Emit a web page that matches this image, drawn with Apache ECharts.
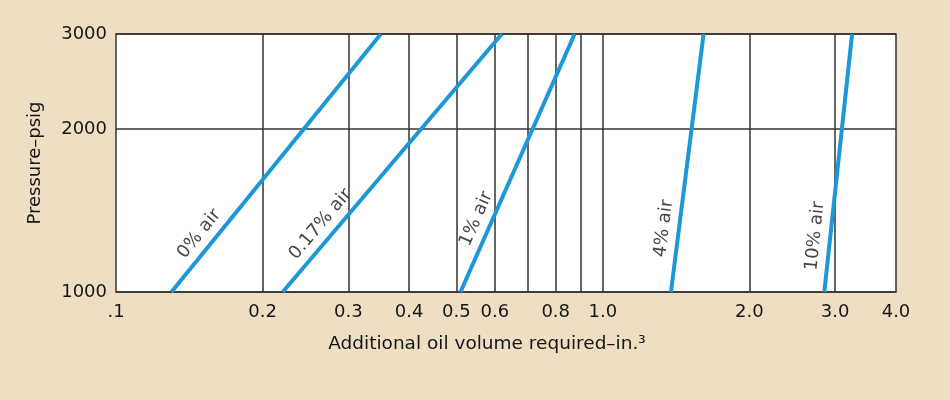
<!DOCTYPE html>
<html><head><meta charset="utf-8">
<script src="https://cdn.jsdelivr.net/npm/echarts@6/dist/echarts.min.js"></script>
<style>html,body{margin:0;padding:0;background:#eedfc4;} #c{width:950px;height:400px;}</style>
</head><body><div id="c"></div>
<script>
const seriesNames = ['0% air', '0.17% air', '1% air', '4% air', '10% air'];
const pressureEnds = [1000, 3000];
const volumeAtLow = [0.13, 0.22, 0.51, 1.38, 2.85];
const volumeAtHigh = [0.35, 0.62, 0.875, 1.61, 3.25];
const labelPressure = [1230, 1280, 1330, 1300, 1260];
const xTickLabels = [0.1, 0.2, 0.3, 0.4, 0.5, 0.6, 0.8, 1.0, 2.0, 3.0, 4.0];
const xGridValues = [0.2, 0.3, 0.4, 0.5, 0.6, 0.7, 0.8, 0.9, 1.0, 2.0, 3.0];
const yTickValues = [1000, 2000, 3000];

const FONT = 'DejaVu Sans';
const TXT = '#151515';
const BLUE = '#1b98d5';

function logInterp(p, i) {
  const t = (Math.log10(p) - Math.log10(pressureEnds[0])) / (Math.log10(pressureEnds[1]) - Math.log10(pressureEnds[0]));
  return Math.pow(10, Math.log10(volumeAtLow[i]) + t * (Math.log10(volumeAtHigh[i]) - Math.log10(volumeAtLow[i])));
}

const chart = echarts.init(document.getElementById('c'), null, {renderer: 'canvas'});

const lineSeries = seriesNames.map((n, i) => ({
  name: n, type: 'line', symbol: 'none', silent: true,
  lineStyle: {color: BLUE, width: 4},
  data: [[volumeAtLow[i], pressureEnds[0]], [volumeAtHigh[i], pressureEnds[1]]]
}));

function labelSeries(rot) {
  return seriesNames.map((n, i) => ({
    name: n + ' label', type: 'scatter', symbolSize: 0, silent: true,
    data: [[logInterp(labelPressure[i], i), labelPressure[i]]],
    label: {
      show: true, position: 'inside', formatter: n, rotate: rot ? rot[i] : 0,
      offset: [0, -15], color: TXT, fontFamily: FONT, fontSize: 18
    }
  }));
}

const option = {
  backgroundColor: '#eedfc4',
  animation: false,
  grid: {left: 116, right: 54, top: 34, bottom: 108, show: true,
    backgroundColor: '#ffffff', borderColor: '#333333', borderWidth: 1.5},
  xAxis: {
    type: 'log', min: 0.1, max: 4, logBase: 10,
    name: 'Additional oil volume required\u2013in.\u00b3', nameLocation: 'middle', nameGap: 43,
    nameTextStyle: {color: TXT, fontFamily: FONT, fontSize: 18.5, padding: [0, 38, 0, 0]},
    axisLine: {show: false},
    axisTick: {show: false, customValues: xGridValues},
    axisLabel: {customValues: xTickLabels, color: TXT, fontFamily: FONT, fontSize: 18, margin: 11,
      formatter: v => (Math.abs(v - 0.1) < 1e-9 ? '.1' : Number(v).toFixed(1))},
    splitLine: {show: true, lineStyle: {color: '#333333', width: 1.5}},
    minorSplitLine: {show: false}
  },
  yAxis: {
    type: 'log', min: 1000, max: 3000, logBase: 10,
    name: 'Pressure\u2013psig', nameLocation: 'middle', nameGap: 72,
    nameTextStyle: {color: TXT, fontFamily: FONT, fontSize: 18, padding: [0, 0, 0, 0]},
    axisLine: {show: false},
    axisTick: {show: false, customValues: yTickValues},
    axisLabel: {customValues: yTickValues, color: TXT, fontFamily: FONT, fontSize: 18, margin: 9,
      formatter: v => String(Math.round(v))},
    splitLine: {show: true, lineStyle: {color: '#333333', width: 1.5}}
  },
  series: lineSeries.concat(labelSeries(null))
};
chart.setOption(option);

const rots = seriesNames.map((n, i) => {
  const a = chart.convertToPixel({gridIndex: 0}, [volumeAtLow[i], pressureEnds[0]]);
  const b = chart.convertToPixel({gridIndex: 0}, [volumeAtHigh[i], pressureEnds[1]]);
  return Math.atan2(a[1] - b[1], b[0] - a[0]) * 180 / Math.PI;
});
option.series = lineSeries.concat(labelSeries(rots));
chart.setOption(option, true);
</script>
</body></html>
